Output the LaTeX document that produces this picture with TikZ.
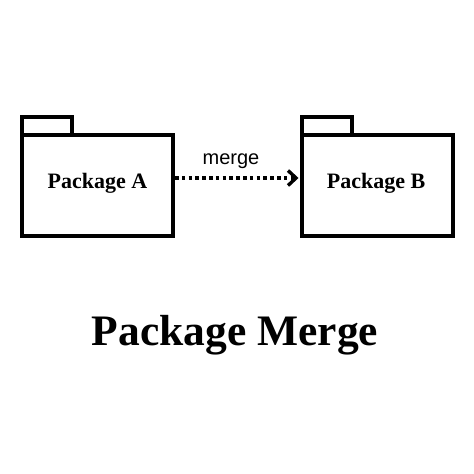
\documentclass[tikz,border=0pt]{standalone}
\usepackage{fontspec}
\setmainfont{Liberation Serif}
\newfontfamily\lblsans{Liberation Sans}
\usetikzlibrary{arrows.meta}
\tikzset{
  pkgbox/.style={draw=black, line width=4pt, fill=white, inner sep=0pt, outer sep=0pt,
    minimum width=151pt, minimum height=101pt},
  pkglabel/.style={font=\fontsize{22}{22}\selectfont\bfseries, inner sep=0pt, anchor=base},
  pkgtab/.style={draw=black, line width=4pt, inner sep=0pt, outer sep=0pt,
    minimum width=50pt, minimum height=18pt, anchor=south west},
  mergearrow/.style={line width=4pt, dash pattern=on 3.5pt off 3.3pt,
    -{Straight Barb[length=8pt,width=15pt,line width=3.4pt]}, shorten >=3pt, shorten <=2pt},
  lbl/.style={font=\lblsans\fontsize{20}{20}\selectfont, inner sep=0pt},
  title/.style={font=\fontsize{43.5}{43.5}\selectfont\bfseries, inner sep=0pt}
}
\begin{document}
\begin{tikzpicture}[x=1pt,y=-1pt]
\useasboundingbox[fill=white] (0,0) rectangle (474,474);
\node[pkgbox] (A) at (97.5,185.5) {};
\node[pkglabel] (lA) at (97.5,188) {Package A};
\node[pkgtab] (tA) at (A.north west) {};
\node[pkgbox] (B) at (377,185.5) {};
\node[pkglabel] (lB) at (376,188) {Package B};
\node[pkgtab] (tB) at (B.north west) {};
\coordinate (s) at ([yshift=7.5pt]A.east);
\coordinate (e) at ([yshift=7.5pt]B.west);
\draw[mergearrow] (s) -- (e);
\node[lbl, anchor=base] (m) at (231,164) {merge};
\node[title, anchor=base] (t) at (235,345) {Package Merge};
\end{tikzpicture}
\end{document}
